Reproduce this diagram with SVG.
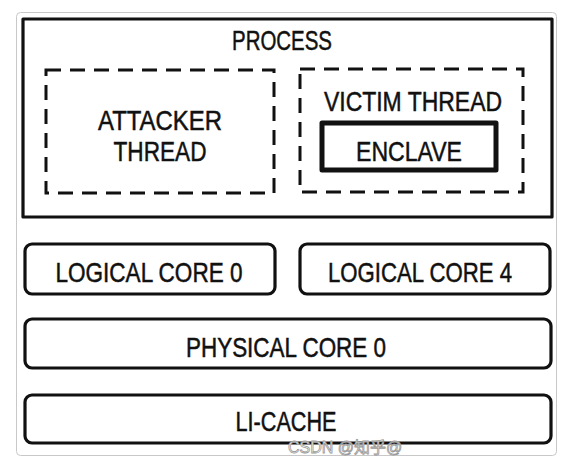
<svg xmlns="http://www.w3.org/2000/svg" width="573" height="464" viewBox="0 0 573 464">
<style>
.box{fill:none;stroke:#111;stroke-width:3.2;stroke-linejoin:round}
.dash{fill:none;stroke:#111;stroke-width:3;stroke-dasharray:15 9;stroke-linecap:butt}
.lbl{font-family:"Liberation Sans","DejaVu Sans",sans-serif;font-size:28px;fill:#111;stroke:#111;stroke-width:0.5;text-anchor:middle}
.wm{font-family:"Liberation Sans","Noto Sans CJK SC",sans-serif;font-size:16px;fill:#fff;stroke:#999;stroke-width:0.8}
</style>
<rect x="0" y="0" width="573" height="464" fill="#fff"/>
<rect x="16.5" y="12.5" width="540" height="443" rx="4" fill="#fff" stroke="#c8c8c8" stroke-width="1"/>
<g id="process">
<rect class="box" x="23" y="19" width="529" height="198"/>
<text class="lbl" x="282" y="50" textLength="100" lengthAdjust="spacingAndGlyphs">PROCESS</text>
</g>
<g id="attacker-thread">
<rect class="dash" x="46" y="70" width="228" height="123"/>
<text class="lbl" x="160" y="130" textLength="124" lengthAdjust="spacingAndGlyphs">ATTACKER</text>
<text class="lbl" x="160" y="161" textLength="93" lengthAdjust="spacingAndGlyphs">THREAD</text>
</g>
<g id="victim-thread">
<rect class="dash" x="300" y="69" width="223" height="123"/>
<text class="lbl" x="413" y="111" textLength="178" lengthAdjust="spacingAndGlyphs">VICTIM THREAD</text>
</g>
<g id="enclave">
<rect class="box" x="322" y="123" width="174" height="47" style="stroke-width:5"/>
<text class="lbl" x="409" y="161" textLength="106" lengthAdjust="spacingAndGlyphs">ENCLAVE</text>
</g>
<g id="logical-core-0">
<rect class="box" x="25" y="244" width="250" height="50" rx="7"/>
<text class="lbl" x="149" y="282" textLength="187" lengthAdjust="spacingAndGlyphs">LOGICAL CORE 0</text>
</g>
<g id="logical-core-4">
<rect class="box" x="300" y="244" width="250" height="50" rx="7"/>
<text class="lbl" x="420" y="282" textLength="184" lengthAdjust="spacingAndGlyphs">LOGICAL CORE 4</text>
</g>
<g id="physical-core-0">
<rect class="box" x="25" y="319" width="526" height="49" rx="7"/>
<text class="lbl" x="286" y="357" textLength="200" lengthAdjust="spacingAndGlyphs">PHYSICAL CORE 0</text>
</g>
<g id="l1-cache">
<rect class="box" x="25" y="395" width="526" height="48" rx="7"/>
<text class="lbl" x="286" y="431" textLength="101" lengthAdjust="spacingAndGlyphs">LI-CACHE</text>
</g>
<g id="connectors"></g>
<text class="wm" x="288" y="453">CSDN @知乎@</text>
</svg>
